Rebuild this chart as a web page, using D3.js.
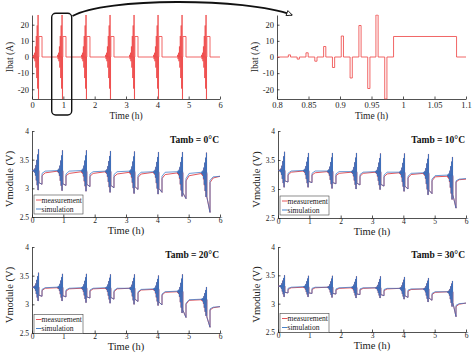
<!DOCTYPE html>
<html><head><meta charset="utf-8">
<script src="https://cdn.jsdelivr.net/npm/d3@7"></script>
<style>body{margin:0;background:#fff}svg{display:block}</style>
</head><body><svg id="c" width="474" height="357"></svg>
<script>
// ---------- data ----------
const cycleShift = [-0.765, 0, 0.765, 1.532, 2.298, 3.064, 3.83, 4.596];
const pulseStart = [0.818,0.832,0.846,0.860,0.874,0.888,0.902,0.916,0.930,0.944,0.957,0.971];
const pulseAmp = [1.3,-1.3,2.6,-2.6,6.5,-6.5,13,-13,19.5,-19.5,26,-26];
const pulseDur = 0.0035;
const dischargeStart = 0.985, dischargeEnd = 1.085, dischargeAmp = 12.7;
const relaxDelay = 0.1;
const ibatTicks = [-20,-10,0,10,20];
const timeTicksFull = [0,1,2,3,4,5,6];
const timeTicksZoom = [0.8,0.85,0.9,0.95,1,1.05,1.1];
const vTicks = [2.5,3,3.5,4];
const tamb = [0,10,20,30];
const vStart = [3.31,3.32,3.30,3.31];
const burstMax = [
  [3.68,3.66,3.66,3.65,3.64,3.63,3.63,3.62],
  [3.64,3.62,3.62,3.62,3.61,3.61,3.60,3.55],
  [3.55,3.53,3.53,3.52,3.52,3.50,3.52,3.30],
  [3.50,3.49,3.49,3.48,3.48,3.47,3.45,3.40]];
const burstMin = [
  [2.97,2.96,2.95,2.93,2.91,2.90,2.86,2.85],
  [3.03,3.03,3.01,3.00,2.99,2.96,2.90,2.82],
  [3.06,3.06,3.03,3.02,3.00,2.98,2.85,2.80],
  [3.12,3.12,3.11,3.10,3.10,3.08,3.03,2.95]];
const dipStartV = [
  [3.10,3.08,3.07,3.05,3.03,3.00,2.92,2.85],
  [3.14,3.13,3.11,3.10,3.08,3.05,2.98,2.90],
  [3.16,3.15,3.13,3.12,3.09,3.04,2.90,2.78],
  [3.20,3.19,3.18,3.17,3.16,3.14,3.10,3.02]];
const dipEndV = [
  [3.07,3.05,3.03,3.01,2.98,2.93,2.82,2.58],
  [3.12,3.11,3.09,3.07,3.05,3.00,2.92,2.67],
  [3.14,3.13,3.11,3.09,3.05,2.99,2.77,2.60],
  [3.19,3.18,3.17,3.16,3.14,3.11,3.06,2.77]];
const measRecA = [
  [3.22,3.22,3.21,3.20,3.19,3.17,3.13,3.10],
  [3.24,3.24,3.23,3.22,3.21,3.19,3.14,3.12],
  [3.24,3.23,3.23,3.22,3.20,3.16,3.00,2.90],
  [3.25,3.25,3.24,3.24,3.23,3.22,3.16,2.95]];
const measRecM = [
  [3.27,3.26,3.26,3.25,3.25,3.24,3.22,3.18],
  [3.29,3.28,3.27,3.27,3.26,3.25,3.21,3.16],
  [3.28,3.27,3.27,3.27,3.25,3.21,3.07,2.94],
  [3.28,3.28,3.27,3.27,3.26,3.25,3.20,2.99]];
const measRecB = [
  [3.30,3.29,3.29,3.28,3.28,3.27,3.26,3.21],
  [3.31,3.30,3.29,3.29,3.28,3.27,3.22,3.17],
  [3.29,3.28,3.28,3.28,3.26,3.22,3.08,2.96],
  [3.29,3.29,3.28,3.28,3.27,3.26,3.21,3.01]];
const simRecA = [
  [3.26,3.25,3.25,3.24,3.23,3.21,3.17,3.14],
  [3.27,3.27,3.26,3.25,3.24,3.22,3.17,3.14],
  [3.26,3.25,3.25,3.24,3.22,3.18,3.02,2.92],
  [3.27,3.27,3.26,3.26,3.25,3.24,3.18,2.97]];
const simRecM = [
  [3.30,3.30,3.29,3.29,3.28,3.28,3.26,3.20],
  [3.31,3.31,3.30,3.29,3.29,3.27,3.23,3.17],
  [3.29,3.28,3.28,3.28,3.26,3.22,3.08,2.95],
  [3.29,3.29,3.28,3.28,3.27,3.26,3.21,3.00]];
const simRecB = [
  [3.31,3.31,3.30,3.30,3.29,3.29,3.28,3.21],
  [3.32,3.31,3.30,3.30,3.29,3.28,3.24,3.18],
  [3.30,3.29,3.29,3.28,3.27,3.23,3.09,2.96],
  [3.30,3.29,3.29,3.28,3.27,3.26,3.21,3.01]];

// ---------- layout ----------
const svg = d3.select("#c");
const SERIF = "'Liberation Serif','Times New Roman',serif";
const AX = "#262626";
const RED = "#ef4b4b", BLUE = "#3274c4", MRED = "#e0434a";
const panels = [
  {x0:32, x1:220, y0:15, y1:99},
  {x0:277,x1:466, y0:15, y1:99},
  {x0:32, x1:220, y0:131,y1:217},
  {x0:278,x1:466, y0:131,y1:218},
  {x0:32, x1:220, y0:247,y1:333},
  {x0:278,x1:466, y0:247,y1:332}];
const defs = svg.append("defs");

function makeAxes(p, xd, yd, xt, yt, i, o) {
  const x = d3.scaleLinear().domain(xd).range([p.x0,p.x1]);
  const y = d3.scaleLinear().domain(yd).range([p.y1,p.y0]);
  const g = svg.append("g");
  const ax = g.append("g").attr("transform",`translate(0,${p.y1})`)
    .call(d3.axisBottom(x).tickValues(xt).tickFormat(d=>String(d)).tickSizeInner(-2.5).tickSizeOuter(0).tickPadding(o.xPad));
  const ay = g.append("g").attr("transform",`translate(${p.x0},0)`)
    .call(d3.axisLeft(y).tickValues(yt).tickFormat(d=>String(d)).tickSizeInner(-2.5).tickSizeOuter(0).tickPadding(3));
  [ax,ay].forEach(a=>{
    a.selectAll("path,line").attr("stroke",AX).attr("stroke-width",0.8);
    a.selectAll("text").attr("font-family",SERIF).attr("font-size",o.tickFs).attr("fill","#222");
  });
  g.append("text").attr("x",(p.x0+p.x1)/2).attr("y",o.xLabY).attr("text-anchor","middle")
    .attr("font-family",SERIF).attr("font-size",o.labFs).attr("fill","#222").text(o.xLab);
  g.append("text").attr("transform",`translate(${o.yLabX},${(p.y0+p.y1)/2+o.yLabDy}) rotate(-90)`)
    .attr("text-anchor","middle").attr("font-family",SERIF).attr("font-size",o.labFs).attr("fill","#222").text(o.yLab);
  defs.append("clipPath").attr("id","clip"+i).append("rect")
    .attr("x",p.x0).attr("y",p.y0-0.5).attr("width",p.x1-p.x0).attr("height",p.y1-p.y0+1);
  return {x,y};
}

// current series built from protocol arrays
function currentPoints(t0, t1) {
  const pts = [[t0,0]];
  cycleShift.forEach(s=>{
    pulseStart.forEach((ps,i)=>{
      const a = s+ps;
      pts.push([a,0],[a,pulseAmp[i]],[a+pulseDur,pulseAmp[i]],[a+pulseDur,0]);
    });
    pts.push([s+dischargeStart,0],[s+dischargeStart,dischargeAmp],[s+dischargeEnd,dischargeAmp],[s+dischargeEnd,0]);
  });
  pts.push([t1,0]);
  return pts;
}

function voltagePoints(p, recA, recM, recB) {
  const pts = [[0, vStart[p]]];
  let base = vStart[p];
  cycleShift.forEach((s,k)=>{
    pulseStart.forEach((ps,i)=>{
      const a = s+ps, f = pulseAmp[i]/26;
      const v = f>0 ? base - f*(base-burstMin[p][k]) : base + (-f)*(burstMax[p][k]-base);
      pts.push([a,base],[a,v],[a+pulseDur,v],[a+pulseDur,base]);
    });
    pts.push([s+dischargeStart,base],[s+dischargeStart,dipStartV[p][k]],[s+dischargeEnd,dipEndV[p][k]],
             [s+dischargeEnd,recA[p][k]],[s+dischargeEnd+relaxDelay,recM[p][k]]);
    base = recB[p][k];
  });
  pts.push([6, base]);
  return pts.filter(d=>d[0]>=0 && d[0]<=6);
}

// ---- top panels ----
[[0,[0,6],timeTicksFull],[1,[0.8,1.1],timeTicksZoom]].forEach(([i,xd,xt])=>{
  const p = panels[i];
  const {x,y} = makeAxes(p, xd, [-26,26], xt, ibatTicks, i,
    {labFs:9.5, tickFs:8.5, xPad:3, xLab:"Time (h)", yLab:"Ibat (A)", yLabX:i===0?13:258, yLabDy:0, xLabY:119});
  const line = d3.line().x(d=>x(d[0])).y(d=>y(d[1]));
  svg.append("path").attr("clip-path",`url(#clip${i})`).attr("d",line(currentPoints(xd[0],xd[1])))
    .attr("fill","none").attr("stroke",RED).attr("stroke-width",1).attr("stroke-opacity",0.85);
});

// ---- voltage panels ----
tamb.forEach((T,p)=>{
  const i = p+2, P = panels[i];
  const left = (p%2===0);
  const {x,y} = makeAxes(P, [0,6], [2.5,4], timeTicksFull, vTicks, i,
    {labFs:10.5, tickFs:7.5, xPad:0.5, xLab:"Time (h)", yLab:"Vmodule (V)", yLabX:left?13:260, yLabDy:5, xLabY:P.y1+17});
  const line = d3.line().x(d=>x(d[0])).y(d=>y(d[1]));
  svg.append("path").attr("clip-path",`url(#clip${i})`).attr("d",line(voltagePoints(p,measRecA,measRecM,measRecB)))
    .attr("fill","none").attr("stroke",MRED).attr("stroke-width",0.9);
  svg.append("path").attr("clip-path",`url(#clip${i})`).attr("d",line(voltagePoints(p,simRecA,simRecM,simRecB)))
    .attr("fill","none").attr("stroke",BLUE).attr("stroke-width",0.8).attr("stroke-opacity",0.9);
  // title
  svg.append("text").attr("x",P.x1-1).attr("y",P.y0+(p<2?11.5:11)).attr("text-anchor","end")
    .attr("font-family",SERIF).attr("font-weight","bold").attr("font-size",9.5).attr("fill","#111")
    .text(`Tamb = ${T}°C`);
  // legend
  const lx = P.x0+2, ly = P.y1-(p<2?22:18.5), lw = 49, lh = 19;
  const lg = svg.append("g");
  lg.append("rect").attr("x",lx).attr("y",ly).attr("width",lw).attr("height",lh)
    .attr("fill","#fff").attr("stroke","#444").attr("stroke-width",0.6);
  [["measurement",MRED],["simulation",BLUE]].forEach(([t,c],j)=>{
    const yy = ly+5+j*9;
    lg.append("line").attr("x1",lx+2).attr("x2",lx+7.5).attr("y1",yy).attr("y2",yy).attr("stroke",c).attr("stroke-width",0.9);
    lg.append("text").attr("x",lx+7.5).attr("y",yy+2.6).attr("font-family",SERIF).attr("font-size",7.6)
      .attr("fill","#222").text(t);
  });
});

// ---- zoom annotation ----
svg.append("rect").attr("x",51.7).attr("y",13.3).attr("width",20).attr("height",101.7).attr("rx",4)
  .attr("fill","none").attr("stroke","#111").attr("stroke-width",1.4);
defs.append("marker").attr("id","arr").attr("viewBox","0 0 10 10").attr("refX",9).attr("refY",5)
  .attr("markerWidth",9).attr("markerHeight",6).attr("markerUnits","userSpaceOnUse").attr("orient","auto")
  .append("path").attr("d","M0,0.5 L9.5,5 L0,9.5 Z").attr("fill","#fff").attr("stroke","#111").attr("stroke-width",1.4);
svg.append("path").attr("d","M72.5,16 C105,-2.5 245,-2.5 292,15").attr("fill","none")
  .attr("stroke","#111").attr("stroke-width",1.8).attr("marker-end","url(#arr)");
</script></body></html>
